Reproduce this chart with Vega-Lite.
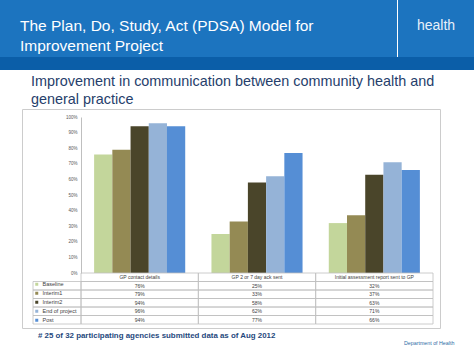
{
  "$schema": "https://vega.github.io/schema/vega-lite/v6.json",
  "background": "white",
  "padding": 0,
  "spacing": 0,
  "config": {"view": {"stroke": null}, "font": "Liberation Sans"},
  "datasets": {
    "blank": [{}],
    "d": [
      {"cat": "GP contact details", "series": "Baseline", "value": 0.76},
      {"cat": "GP contact details", "series": "Interim1", "value": 0.79},
      {"cat": "GP contact details", "series": "Interim2", "value": 0.94},
      {"cat": "GP contact details", "series": "End of project", "value": 0.96},
      {"cat": "GP contact details", "series": "Post", "value": 0.94},
      {"cat": "GP 2 or 7 day ack sent", "series": "Baseline", "value": 0.25},
      {"cat": "GP 2 or 7 day ack sent", "series": "Interim1", "value": 0.33},
      {"cat": "GP 2 or 7 day ack sent", "series": "Interim2", "value": 0.58},
      {"cat": "GP 2 or 7 day ack sent", "series": "End of project", "value": 0.62},
      {"cat": "GP 2 or 7 day ack sent", "series": "Post", "value": 0.77},
      {"cat": "Initial assessment report sent to GP", "series": "Baseline", "value": 0.32},
      {"cat": "Initial assessment report sent to GP", "series": "Interim1", "value": 0.37},
      {"cat": "Initial assessment report sent to GP", "series": "Interim2", "value": 0.63},
      {"cat": "Initial assessment report sent to GP", "series": "End of project", "value": 0.71},
      {"cat": "Initial assessment report sent to GP", "series": "Post", "value": 0.66}
    ]
  },
  "vconcat": [
    {
      "hconcat": [
        {
          "width": 397, "height": 57,
          "view": {"fill": "#1c74bf", "stroke": null},
          "data": {"name": "blank"},
          "mark": {"type": "text", "text": ""},
          "encoding": {},
          "title": {
            "text": ["The Plan, Do, Study, Act (PDSA) Model for", "Improvement Project"],
            "anchor": "start", "frame": "group", "orient": "top",
            "offset": -54, "dx": 20,
            "font": "Liberation Sans", "fontSize": 15.5, "fontWeight": "normal",
            "color": "white", "lineHeight": 20
          }
        },
        {
          "width": 76, "height": 57,
          "view": {"fill": "#1c74bf", "stroke": null},
          "data": {"name": "blank"},
          "mark": {"type": "text", "text": ""},
          "encoding": {},
          "title": {
            "text": "health",
            "anchor": "middle", "frame": "group", "orient": "top",
            "offset": -33,
            "font": "Liberation Sans", "fontSize": 14, "fontWeight": "normal",
            "color": "#e8f0fa"
          }
        }
      ],
      "spacing": 1,
      "bounds": "flush"
    },
    {
      "width": 474, "height": 13,
      "view": {"fill": "#0b5ea8", "stroke": null},
      "data": {"name": "blank"},
      "mark": {"type": "text", "text": ""},
      "encoding": {}
    },
    {
      "width": 474, "height": 38,
      "data": {"name": "blank"},
      "mark": {"type": "text", "text": ""},
      "encoding": {},
      "title": {
        "text": ["Improvement in communication between community health and", "general practice"],
        "anchor": "start", "frame": "group", "orient": "top",
        "offset": -37.5, "dx": 31,
        "font": "Liberation Sans", "fontSize": 14.4, "fontWeight": "normal",
        "color": "#263e6b", "lineHeight": 18
      }
    },
    {
      "hconcat": [
        {
          "width": 21, "height": 219,
          "data": {"name": "blank"},
          "mark": {"type": "text", "text": ""},
          "encoding": {}
        },
        {
          "width": 418, "height": 219,
          "view": {"fill": "white", "stroke": "#cccccc", "strokeWidth": 1},
          "data": {"name": "d"},
          "layer": [
            {
              "mark": {"type": "bar"},
              "encoding": {
                "x": {"field": "cat", "type": "nominal", "sort": null,
                      "scale": {"domain": ["GP contact details", "GP 2 or 7 day ack sent", "Initial assessment report sent to GP"], "range": [59, 411], "paddingInner": 0, "paddingOuter": 0},
                      "axis": null},
                "xOffset": {"field": "series", "type": "nominal",
                      "scale": {"domain": ["Baseline", "Interim1", "Interim2", "End of project", "Post"], "paddingInner": 0, "paddingOuter": 0.72}},
                "y": {"field": "value", "type": "quantitative",
                      "scale": {"domain": [0, 1], "range": [164, 8], "nice": false},
                      "axis": {"title": null, "format": ".0%", "values": [0, 0.1, 0.2, 0.3, 0.4, 0.5, 0.6, 0.7, 0.8, 0.9, 1],
                               "offset": -59, "tickSize": 0, "labelPadding": 4, "labelFontSize": 4.5,
                               "labelColor": "#595959", "domainColor": "#bfbfbf", "grid": false}},
                "color": {"field": "series", "type": "nominal",
                      "scale": {"domain": ["Baseline", "Interim1", "Interim2", "End of project", "Post"],
                                "range": ["#c3d69b", "#948a54", "#4a452a", "#95b3d7", "#558ed5"]},
                      "legend": {"orient": "none", "legendX": 34, "legendY": 280, "title": null,
                                 "symbolType": "square", "symbolSize": 9, "labelFontSize": 5.5,
                                 "labelColor": "#404040", "clipHeight": 8.5, "rowPadding": 0,
                                 "labelOffset": 3, "padding": 0, "symbolStrokeWidth": 0}}
              }
            },
            {
              "mark": {"type": "rect", "fill": "white", "fillOpacity": 0, "stroke": "#bfbfbf", "strokeWidth": 0.8},
              "encoding": {
                "x": {"field": "cat", "type": "nominal",
                      "scale": {"domain": ["GP contact details", "GP 2 or 7 day ack sent", "Initial assessment report sent to GP"], "range": [59, 411], "paddingInner": 0, "paddingOuter": 0},
                      "axis": null},
                "y": {"field": "series", "type": "nominal",
                      "scale": {"domain": ["header", "Baseline", "Interim1", "Interim2", "End of project", "Post"], "range": [164, 215], "paddingInner": 0, "paddingOuter": 0},
                      "axis": null}
              }
            },
            {
              "transform": [{"filter": "datum.series == 'Baseline'"}],
              "mark": {"type": "rect", "fill": "white", "fillOpacity": 0, "stroke": "#bfbfbf", "strokeWidth": 0.8},
              "encoding": {
                "x": {"field": "cat", "type": "nominal",
                      "scale": {"domain": ["GP contact details", "GP 2 or 7 day ack sent", "Initial assessment report sent to GP"], "range": [59, 411], "paddingInner": 0, "paddingOuter": 0},
                      "axis": null},
                "y": {"datum": "header", "type": "nominal",
                      "scale": {"domain": ["header", "Baseline", "Interim1", "Interim2", "End of project", "Post"], "range": [164, 215], "paddingInner": 0, "paddingOuter": 0},
                      "axis": null}
              }
            },
            {
              "transform": [{"filter": "datum.cat == 'GP contact details'"}],
              "mark": {"type": "rect", "fill": "white", "fillOpacity": 0, "stroke": "#bfbfbf", "strokeWidth": 0.8},
              "encoding": {
                "x": {"datum": "legend", "type": "nominal",
                      "scale": {"domain": ["legend"], "range": [11, 59], "paddingInner": 0, "paddingOuter": 0},
                      "axis": null},
                "y": {"field": "series", "type": "nominal",
                      "scale": {"domain": ["header", "Baseline", "Interim1", "Interim2", "End of project", "Post"], "range": [164, 215], "paddingInner": 0, "paddingOuter": 0},
                      "axis": null}
              }
            },
            {
              "mark": {"type": "text", "fontSize": 5, "color": "#404040", "font": "Liberation Sans"},
              "encoding": {
                "x": {"field": "cat", "type": "nominal",
                      "scale": {"domain": ["GP contact details", "GP 2 or 7 day ack sent", "Initial assessment report sent to GP"], "range": [59, 411], "paddingInner": 0, "paddingOuter": 0},
                      "axis": null},
                "y": {"field": "series", "type": "nominal",
                      "scale": {"domain": ["header", "Baseline", "Interim1", "Interim2", "End of project", "Post"], "range": [164, 215], "paddingInner": 0, "paddingOuter": 0},
                      "axis": null},
                "text": {"field": "value", "type": "quantitative", "format": ".0%"}
              }
            },
            {
              "transform": [{"filter": "datum.series == 'Baseline'"}],
              "mark": {"type": "text", "fontSize": 5, "color": "#404040", "font": "Liberation Sans"},
              "encoding": {
                "x": {"field": "cat", "type": "nominal",
                      "scale": {"domain": ["GP contact details", "GP 2 or 7 day ack sent", "Initial assessment report sent to GP"], "range": [59, 411], "paddingInner": 0, "paddingOuter": 0},
                      "axis": null},
                "y": {"datum": "header", "type": "nominal",
                      "scale": {"domain": ["header", "Baseline", "Interim1", "Interim2", "End of project", "Post"], "range": [164, 215], "paddingInner": 0, "paddingOuter": 0},
                      "axis": null},
                "text": {"field": "cat", "type": "nominal"}
              }
            }
          ],
          "resolve": {"scale": {"x": "independent", "y": "independent"}}
        }
      ],
      "spacing": 1,
      "bounds": "flush"
    },
    {
      "hconcat": [
        {
          "width": 380, "height": 28,
          "data": {"name": "blank"},
          "mark": {"type": "text", "text": ""},
          "encoding": {},
          "title": {
            "text": "# 25 of 32 participating agencies submitted data as of Aug 2012",
            "anchor": "start", "frame": "group", "orient": "top",
            "offset": -10.5, "dx": 38,
            "font": "Liberation Sans", "fontSize": 7.9, "fontWeight": "bold",
            "color": "#1f497d"
          }
        },
        {
          "width": 93, "height": 28,
          "data": {"name": "blank"},
          "mark": {"type": "text", "text": ""},
          "encoding": {},
          "title": {
            "text": "Department of Health",
            "anchor": "start", "frame": "group", "orient": "top",
            "offset": -17.3, "dx": 23,
            "font": "Liberation Sans", "fontSize": 5.3, "fontWeight": "normal",
            "color": "#2e6ca5"
          }
        }
      ],
      "spacing": 1,
      "bounds": "flush"
    }
  ]
}
